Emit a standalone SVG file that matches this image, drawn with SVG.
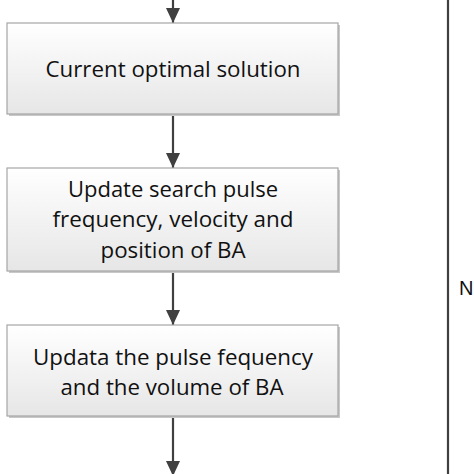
<svg xmlns="http://www.w3.org/2000/svg" width="474" height="474" viewBox="0 0 474 474">
<defs>
<linearGradient id="g" x1="0" y1="0" x2="0" y2="1">
<stop offset="0" stop-color="#ffffff"/>
<stop offset="1" stop-color="#e6e6e6"/>
</linearGradient>
<marker id="ah" markerWidth="15" markerHeight="14" refX="15" refY="7" orient="auto" markerUnits="userSpaceOnUse">
<path d="M0,0 L15,7 L0,14 Z" fill="#404040"/>
</marker>
</defs>
<style>
.box{fill:url(#g);stroke:#a6a6a6;stroke-width:1.2}
.sh{fill:#c8c8c8}
.t{font-family:"Open Sans","Liberation Sans",sans-serif;font-size:21.5px;fill:#111;text-anchor:middle}
.c{stroke:#404040;stroke-width:2.2;fill:none}
</style>
<rect width="474" height="474" fill="#ffffff"/>
<g id="connectors">
<line class="c" x1="173" y1="0" x2="173" y2="23" marker-end="url(#ah)"/>
<line class="c" x1="173" y1="115" x2="173" y2="168" marker-end="url(#ah)"/>
<line class="c" x1="173" y1="272" x2="173" y2="325" marker-end="url(#ah)"/>
<line class="c" x1="173" y1="417" x2="173" y2="476" marker-end="url(#ah)"/>
<line class="c" x1="448" y1="0" x2="448" y2="474"/>
</g>
<g id="n1">
<rect class="sh" x="9" y="25" width="331" height="91"/>
<rect class="box" x="7" y="23" width="331" height="91"/>
<text class="t" x="173" y="77" textLength="255" lengthAdjust="spacingAndGlyphs">Current optimal solution</text>
</g>
<g id="n2">
<rect class="sh" x="9" y="170" width="331" height="103"/>
<rect class="box" x="7" y="168" width="331" height="103"/>
<text class="t" x="173" y="197" textLength="210" lengthAdjust="spacingAndGlyphs">Update search pulse</text>
<text class="t" x="173" y="227" textLength="241" lengthAdjust="spacingAndGlyphs">frequency, velocity and</text>
<text class="t" x="173" y="258" textLength="145" lengthAdjust="spacingAndGlyphs">position of BA</text>
</g>
<g id="n3">
<rect class="sh" x="9" y="327" width="331" height="91"/>
<rect class="box" x="7" y="325" width="331" height="91"/>
<text class="t" x="173" y="365" textLength="280" lengthAdjust="spacingAndGlyphs">Updata the pulse fequency</text>
<text class="t" x="172" y="395" textLength="223" lengthAdjust="spacingAndGlyphs">and the volume of BA</text>
</g>
<g id="label">
<text x="459" y="295" style="font-family:'Liberation Sans',sans-serif;font-size:20px;fill:#111">N</text>
</g>
</svg>
